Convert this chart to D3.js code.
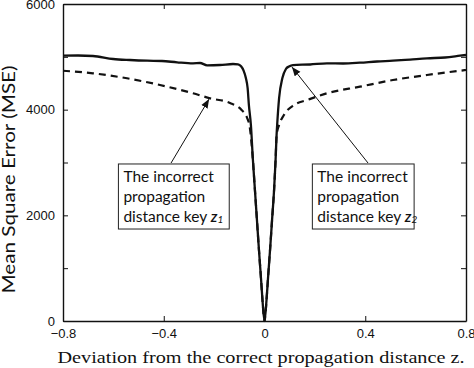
<!DOCTYPE html>
<html>
<head>
<meta charset="utf-8">
<script src="https://cdn.jsdelivr.net/npm/d3@7"></script>
<style>
  html, body { margin: 0; padding: 0; background: #fff; }
  svg { display: block; }
</style>
</head>
<body>
<svg id="chart" width="474" height="368"></svg>
<script>
// ---- data ----
const solidX = [-0.800,-0.740,-0.681,-0.601,-0.534,-0.466,-0.407,-0.347,-0.284,-0.256,-0.228,-0.177,-0.125,-0.105,-0.093,-0.083,-0.074,-0.067,-0.062,-0.054,-0.046,-0.038,-0.030,-0.022,-0.014,-0.008,0.000,0.008,0.014,0.022,0.030,0.038,0.044,0.048,0.051,0.058,0.071,0.085,0.097,0.113,0.181,0.248,0.312,0.379,0.447,0.510,0.578,0.645,0.717,0.776,0.800];
const solidY = [5021,5025,5016,4959,4940,4927,4921,4896,4877,4883,4840,4845,4864,4859,4820,4740,4600,4410,4088,3710,3047,2480,1912,1344,814,397,0,397,814,1344,1912,2480,3047,3520,3766,4221,4599,4770,4817,4845,4855,4877,4874,4889,4912,4927,4949,4972,4987,5021,5035];
const dashX = [-0.800,-0.681,-0.546,-0.415,-0.284,-0.216,-0.137,-0.091,-0.071,-0.058,-0.046,-0.038,-0.030,-0.022,-0.014,-0.008,0.000,0.008,0.014,0.022,0.030,0.038,0.044,0.048,0.058,0.077,0.117,0.170,0.248,0.379,0.510,0.645,0.800];
const dashY = [4737,4688,4594,4467,4310,4215,4126,3994,3867,3653,3047,2480,1912,1344,814,397,0,397,814,1344,1912,2480,3047,3520,3710,3899,4088,4183,4310,4435,4561,4656,4751];
const xTicks = [-0.8,-0.4,0,0.4,0.8];
const xTickLabels = ["\u22120.8","\u22120.4","0","0.4","0.8"];
const yTicks = [0,1000,2000,3000,4000,5000,6000];
const yTickLabels = ["0","","2000","","4000","","6000"];
const yLabel = "Mean Square Error (MSE)";
const xLabel = "Deviation from the correct propagation distance z.";
// annotations (data units): arrow tip, arrow tail, box extents, text lines, subscript
const annTipX = [-0.220, 0.109];
const annTipY = [4200, 4807];
const annTailX = [-0.371, 0.411];
const annTailY = [2990, 2990];
const annBoxX0 = [-0.580, 0.190];
const annBoxX1 = [-0.140, 0.594];
const annBoxY0 = [2972, 2972];
const annBoxY1 = [1741, 1741];
const annLines = ["The incorrect", "propagation", "distance key "];
const annSub = ["1", "2"];

// ---- layout ----
const svg = d3.select("#chart");
const mLeft = 63, mRight = 466, mTop = 4, mBottom = 321;
const x = d3.scaleLinear().domain([-0.8, 0.8]).range([mLeft, mRight]);
const y = d3.scaleLinear().domain([0, 6000]).range([mBottom, mTop]);

// series
const line = d3.line().x(d => x(d[0])).y(d => y(d[1])).curve(d3.curveMonotoneX);
const dashData = dashX.map((v, i) => [v, dashY[i]]);
const solidData = solidX.map((v, i) => [v, solidY[i]]);

svg.append("path").datum(dashData).attr("d", line)
  .attr("fill", "none").attr("stroke", "#111").attr("stroke-width", 2.2)
  .attr("stroke-dasharray", "7,5");
svg.append("path").datum(solidData).attr("d", line)
  .attr("fill", "none").attr("stroke", "#111").attr("stroke-width", 2.3)
  .attr("stroke-linejoin", "round");

// axes frame
const tickLen = 5;
const axesG = svg.append("g");
const bottomAxis = d3.axisBottom(x).tickValues(xTicks).tickSizeInner(-tickLen).tickSizeOuter(0).tickFormat((d, i) => xTickLabels[i]).tickPadding(8);
const topAxis = d3.axisTop(x).tickValues(xTicks).tickSizeInner(-tickLen).tickSizeOuter(0).tickFormat("");
const leftAxis = d3.axisLeft(y).tickValues(yTicks).tickSizeInner(-tickLen).tickSizeOuter(0).tickFormat((d, i) => yTickLabels[i]).tickPadding(8);
const rightAxis = d3.axisRight(y).tickValues(yTicks).tickSizeInner(-tickLen).tickSizeOuter(0).tickFormat("");

function style(g) {
  g.select(".domain").attr("stroke", "#111").attr("stroke-width", 1.4);
  g.selectAll(".tick line").attr("stroke", "#111").attr("stroke-width", 1);
  g.selectAll(".tick text").attr("fill", "#111").attr("font-family", "Liberation Sans, Arial, sans-serif").attr("font-size", 13);
}
axesG.append("g").attr("transform", `translate(0,${mBottom})`).call(bottomAxis).call(style);
axesG.append("g").attr("transform", `translate(0,${mTop})`).call(topAxis).call(style);
axesG.append("g").attr("transform", `translate(${mLeft},0)`).call(leftAxis).call(style);
axesG.append("g").attr("transform", `translate(${mRight},0)`).call(rightAxis).call(style);

// axis labels
svg.append("text")
  .attr("transform", `translate(15,${(mTop + mBottom) / 2 + 17}) rotate(-90)`)
  .attr("text-anchor", "middle")
  .attr("font-family", "Lato, 'Open Sans', sans-serif")
  .attr("font-size", 18).attr("fill", "#111")
  .attr("textLength", 228).attr("lengthAdjust", "spacingAndGlyphs")
  .text(yLabel);

svg.append("text")
  .attr("x", 261).attr("y", 363)
  .attr("text-anchor", "middle")
  .attr("font-family", "'Liberation Serif', 'DejaVu Serif', serif")
  .attr("font-size", 17).attr("fill", "#111")
  .attr("textLength", 407).attr("lengthAdjust", "spacingAndGlyphs")
  .text(xLabel);

// annotations
const defs = svg.append("defs");
defs.append("marker").attr("id", "arrow").attr("viewBox", "0 0 10 10")
  .attr("refX", 10).attr("refY", 5).attr("markerWidth", 9).attr("markerHeight", 9)
  .attr("markerUnits", "userSpaceOnUse").attr("orient", "auto")
  .append("path").attr("d", "M0,1 L10,5 L0,9 Z").attr("fill", "#111");

annTipX.forEach((tx, i) => {
  svg.append("line")
    .attr("x1", x(annTailX[i])).attr("y1", y(annTailY[i]))
    .attr("x2", x(tx)).attr("y2", y(annTipY[i]))
    .attr("stroke", "#111").attr("stroke-width", 1)
    .attr("marker-end", "url(#arrow)");
  const bx0 = x(annBoxX0[i]), bx1 = x(annBoxX1[i]);
  const by0 = y(annBoxY0[i]), by1 = y(annBoxY1[i]);
  svg.append("rect").attr("x", bx0).attr("y", by0)
    .attr("width", bx1 - bx0).attr("height", by1 - by0)
    .attr("fill", "#fff").attr("stroke", "#222").attr("stroke-width", 1);
  const t = svg.append("text")
    .attr("font-family", "Lato, 'Open Sans', sans-serif")
    .attr("font-size", 15.5).attr("fill", "#111");
  annLines.forEach((ln, j) => {
    t.append("tspan").attr("x", bx0 + 5).attr("y", by0 + 18 + j * 20).text(ln);
  });
  t.append("tspan").attr("font-style", "italic").attr("font-weight", 600).text("z");
  t.append("tspan").attr("font-style", "italic").attr("font-size", 10).attr("dy", 1).text(annSub[i]);
});
</script>
</body>
</html>
